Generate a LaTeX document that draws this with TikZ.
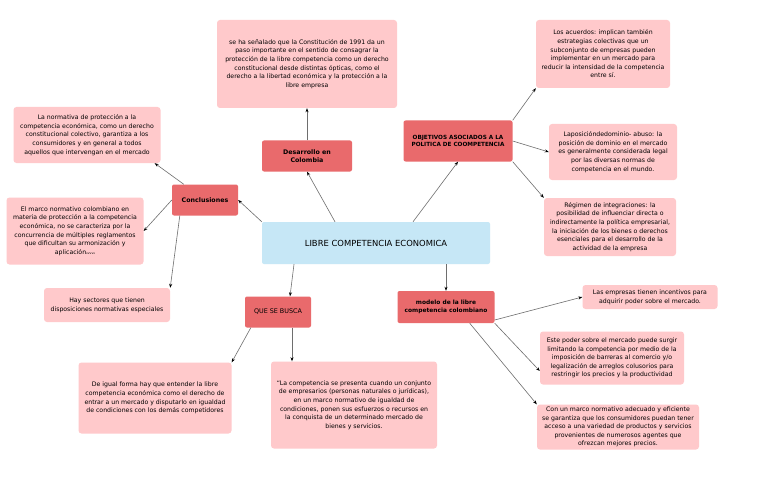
\documentclass[tikz,border=0pt]{standalone}
\usepackage{fontspec}
\setmainfont{DejaVu Sans}
\usepackage{xcolor}
\usetikzlibrary{arrows.meta}

\definecolor{rosa}{HTML}{FFC9CB}
\definecolor{rojo}{HTML}{E96A6C}
\definecolor{celeste}{HTML}{C6E7F6}
\definecolor{gris}{HTML}{6E6E6E}

\begin{document}
\begin{tikzpicture}[x=1pt,y=-1pt,
    hoja/.style={fill=rosa, rounded corners=3pt, align=center, inner sep=2pt,
      font=\fontsize{6.2}{8.6}\selectfont},
    rama/.style={fill=rojo, rounded corners=2pt, align=center, inner sep=2pt,
      font=\fontsize{6.3}{8.6}\selectfont\bfseries},
    centro/.style={fill=celeste, rounded corners=2pt, align=center,
      font=\fontsize{8.4}{10}\selectfont},
    flecha/.style={draw=gris, line width=0.6pt, -{Stealth[length=4pt,width=3pt,black]}}]
      \useasboundingbox (0,0) rectangle (768,492);
      \fill[white] (0,0) rectangle (768,492);

      % centro
      \node[centro, minimum width=228pt, minimum height=42pt] (libre) at (376,243)
        {LIBRE COMPETENCIA ECONOMICA};

      % arriba
      \node[rama, minimum width=90pt, minimum height=31pt] (desarrollo) at (307,156)
        {Desarrollo en\\Colombia};
      \node[hoja, minimum width=180pt, minimum height=88pt] (senalado) at (307,64)
        {se ha señalado que la Constitución de 1991 da un\\
         paso importante en el sentido de consagrar la\\
         protección de la libre competencia como un derecho\\
         constitucional desde distintas ópticas, como el\\
         derecho a la libertad económica y la protección a la\\
         libre empresa};

      % derecha arriba
      \node[rama, minimum width=109pt, minimum height=41pt,
        font=\fontsize{5.7}{7.6}\selectfont\bfseries] (objetivos) at (458,141)
        {OBJETIVOS ASOCIADOS A LA\\POLITICA DE COOMPETENCIA};
      \node[hoja, minimum width=134pt, minimum height=68pt] (acuerdos) at (603,54)
        {Los acuerdos: implican también\\
         estrategias colectivas que un\\
         subconjunto de empresas pueden\\
         implementar en un mercado para\\
         reducir la intensidad de la competencia\\
         entre sí.};
      \node[hoja, minimum width=128pt, minimum height=56pt] (posicion) at (613,152)
        {Laposicióndedominio- abuso: la\\
         posición de dominio en el mercado\\
         es generalmente considerada legal\\
         por las diversas normas de\\
         competencia en el mundo.};
      \node[hoja, minimum width=132pt, minimum height=58pt] (regimen) at (610,227)
        {Régimen de integraciones: la\\
         posibilidad de influenciar directa o\\
         indirectamente la política empresarial,\\
         la iniciación de los bienes o derechos\\
         esenciales para el desarrollo de la\\
         actividad de la empresa};

      % izquierda
      \node[rama, minimum width=66pt, minimum height=31pt] (conclusiones) at (205,200)
        {Conclusiones};
      \node[hoja, minimum width=147pt, minimum height=56pt] (normativa) at (87,135)
        {La normativa de protección a la\\
         competencia económica, como un derecho\\
         constitucional colectivo, garantiza a los\\
         consumidores y en general a todos\\
         aquellos que intervengan en el mercado};
      \node[hoja, minimum width=137pt, minimum height=67pt] (marco) at (75,231)
        {El marco normativo colombiano en\\
         materia de protección a la competencia\\
         económica, no se caracteriza por la\\
         concurrencia de múltiples reglamentos\\
         que dificultan su armonización y\\
         aplicación{\fontsize{3}{4}\selectfont vvvvv}};
      \node[hoja, minimum width=126pt, minimum height=34pt] (sectores) at (107,305)
        {Hay sectores que tienen\\
         disposiciones normativas especiales};

      % abajo izquierda
      \node[rama, minimum width=66pt, minimum height=31pt,
        font=\fontsize{6.4}{8.4}\selectfont] (busca) at (278,312)
        {QUE SE BUSCA};
      \node[hoja, minimum width=153pt, minimum height=71pt] (igual) at (155,398)
        {De igual forma hay que entender la libre\\
         competencia económica como el derecho de\\
         entrar a un mercado y disputarlo en igualdad\\
         de condiciones con los demás competidores};
      \node[hoja, minimum width=166pt, minimum height=87pt] (competencia) at (354,405)
        {“La competencia se presenta cuando un conjunto\\
         de empresarios (personas naturales o jurídicas),\\
         en un marco normativo de igualdad de\\
         condiciones, ponen sus esfuerzos o recursos en\\
         la conquista de un determinado mercado de\\
         bienes y servicios.};

      % abajo derecha
      \node[rama, minimum width=97pt, minimum height=32pt,
        font=\fontsize{5.9}{8.4}\selectfont\bfseries] (modelo) at (446,307)
        {modelo de la libre\\competencia colombiano};
      \node[hoja, minimum width=135pt, minimum height=24pt] (empresas) at (650,297)
        {Las empresas tienen incentivos para\\
         adquirir poder sobre el mercado.};
      \node[hoja, minimum width=144pt, minimum height=53pt] (poder) at (612,358)
        {Este poder sobre el mercado puede surgir\\
         limitando la competencia por medio de la\\
         imposición de barreras al comercio y/o\\
         legalización de arreglos colusorios para\\
         restringir los precios y la productividad};
      \node[hoja, minimum width=162pt, minimum height=45pt] (conmarco) at (618,427)
        {Con un marco normativo adecuado y eficiente\\
         se garantiza que los consumidores puedan tener\\
         acceso a una variedad de productos y servicios\\
         provenientes de numerosos agentes que\\
         ofrezcan mejores precios.};

      % conectores
      \draw[flecha] ([xshift=-41pt]libre.north) -- (desarrollo.south);
      \draw[flecha] (desarrollo.north) -- (senalado.south);
      \draw[flecha] (libre.north west) -- (conclusiones.east);
      \draw[flecha] ([xshift=12pt]conclusiones.north west) -- ([xshift=-6pt]normativa.south east);
      \draw[flecha] (conclusiones.west) -- (marco.east);
      \draw[flecha] ([xshift=8pt]conclusiones.south west) -- (sectores.north east);
      \draw[flecha] ([xshift=37pt]libre.north) -- (objetivos.south);
      \draw[flecha] (objetivos.north east) -- (acuerdos.south west);
      \draw[flecha] (objetivos.east) -- (posicion.west);
      \draw[flecha] (objetivos.south east) -- (regimen.north west);
      \draw[flecha] ([xshift=70pt]libre.south) -- (modelo.north);
      \draw[flecha] ([yshift=-13pt]modelo.east) -- (empresas.west);
      \draw[flecha] (modelo.south east) -- ([yshift=-13pt]poder.west);
      \draw[flecha] ([xshift=-25pt]modelo.south east) -- (conmarco.north west);
      \draw[flecha] ([xshift=-82pt]libre.south) -- ([xshift=12pt]busca.north);
      \draw[flecha] ([xshift=6pt]busca.south west) -- (igual.north east);
      \draw[flecha] ([xshift=14pt]busca.south) -- ([xshift=-62pt]competencia.north);
\end{tikzpicture}
\end{document}
